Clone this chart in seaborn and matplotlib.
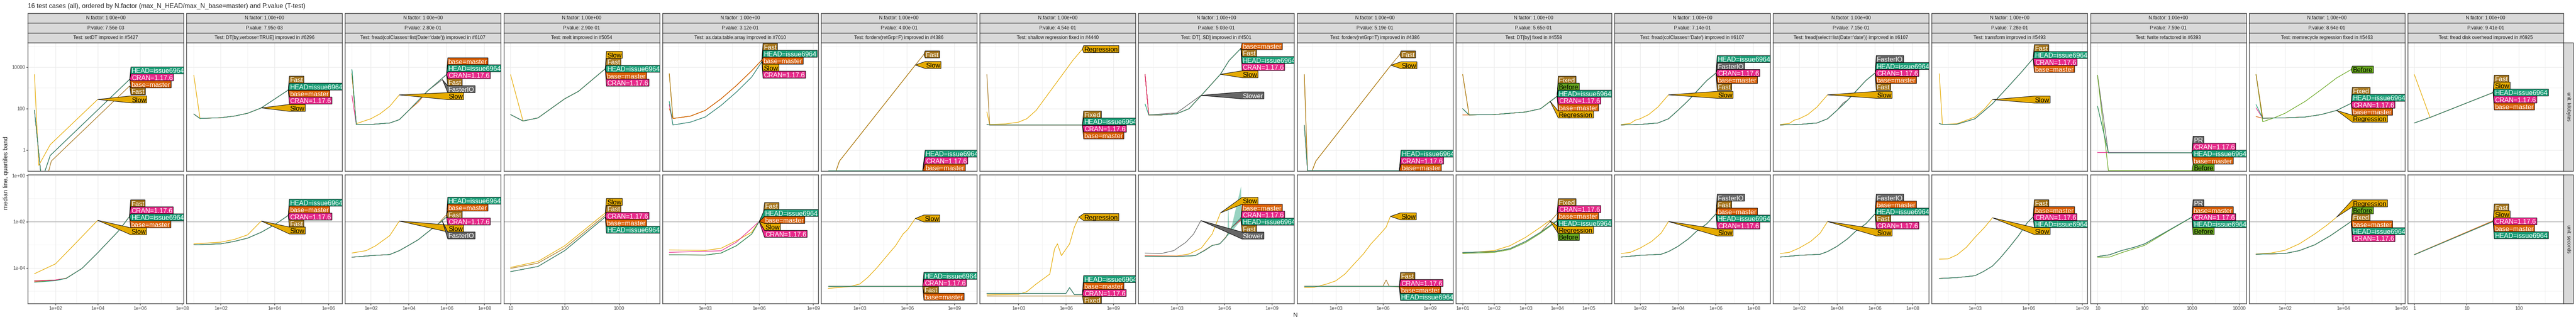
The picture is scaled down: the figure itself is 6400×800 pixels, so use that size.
import numpy as np
import pandas as pd
import seaborn as sns
import matplotlib.pyplot as plt
from matplotlib.patches import Polygon, Rectangle
from matplotlib.transforms import IdentityTransform
from matplotlib.ticker import NullFormatter, FixedLocator

sns.set_style("white")
plt.rcParams['font.family'] = ['Liberation Sans', 'DejaVu Sans']

H_ = "HEAD=issue6964"
C_ = "CRAN=1.17.6"
B_ = "base=master"

TITLE = ("16 test cases (all), ordered by N.factor "
         "(max_N_HEAD/max_N_base=master) and P.value (T-test)")

tests = [
    "setDT improved in #5427",
    "DT[by,verbose=TRUE] improved in #6296",
    "fread(colClasses=list(Date='date')) improved in #6107",
    "melt improved in #5054",
    "as.data.table.array improved in #7010",
    "forderv(retGrp=F) improved in #4386",
    "shallow regression fixed in #4440",
    "DT[,.SD] improved in #4501",
    "forderv(retGrp=T) improved in #4386",
    "DT[by] fixed in #4558",
    "fread(colClasses='Date') improved in #6107",
    "fread(select=list(Date='date')) improved in #6107",
    "transform improved in #5493",
    "fwrite refactored in #6393",
    "memrecycle regression fixed in #5463",
    "fread disk overhead improved in #6925",
]
p_values = ["7.56e-03", "7.95e-03", "2.80e-01", "2.90e-01", "3.12e-01", "4.00e-01",
            "4.54e-01", "5.03e-01", "5.19e-01", "5.65e-01", "7.14e-01", "7.15e-01",
            "7.28e-01", "7.59e-01", "8.64e-01", "9.41e-01"]
n_factors = ["1.00e+00"] * 16
units = ["kilobytes", "seconds"]

x_ticks = [
    ["1e+02", "1e+04", "1e+06", "1e+08"],
    ["1e+02", "1e+04", "1e+06"],
    ["1e+02", "1e+04", "1e+06", "1e+08"],
    ["10", "100", "1000"],
    ["1e+03", "1e+06", "1e+09"],
    ["1e+03", "1e+06", "1e+09"],
    ["1e+03", "1e+06", "1e+09"],
    ["1e+03", "1e+06", "1e+09"],
    ["1e+03", "1e+06", "1e+09"],
    ["1e+01", "1e+02", "1e+03", "1e+04", "1e+05"],
    ["1e+02", "1e+04", "1e+06", "1e+08"],
    ["1e+02", "1e+04", "1e+06", "1e+08"],
    ["1e+03", "1e+06", "1e+09"],
    ["10", "100", "1000", "10000"],
    ["1e+02", "1e+04", "1e+06"],
    ["1", "10", "100"],
]
y_ticks = [["1", "100", "10000"], ["1e-04", "1e-02", "1e+00"]]

# ---- 1 setDT
setdt_kb_mid = ([10, 22, 32, 56, 3.3e5], [83, 0.03, 0.1, 0.54, 2600])
setdt_kb = {
    "Slow": ([10, 16, 56, 1e4], [4400, 0.18, 1.8, 275]),
    "Fast": ([10, 22, 40, 63, 3.3e5], [83, 0.03, 0.05, 0.29, 1240]),
    B_: setdt_kb_mid, C_: setdt_kb_mid, H_: setdt_kb_mid,
}
setdt_sec_N = [10, 100, 320, 1800, 1e4, 1e5, 3.2e5]
setdt_sec = {
    "Slow": ([10, 100, 1000, 1e4], [5.6e-5, 1.5e-4, 1.3e-3, 0.0115]),
    "Fast": (setdt_sec_N, [2.8e-5, 3.0e-5, 3.6e-5, 9.5e-5, 4.5e-4, 4.1e-3, 0.017]),
    C_: (setdt_sec_N, [2.7e-5, 3.0e-5, 3.5e-5, 9.5e-5, 4.5e-4, 4.1e-3, 0.0166]),
    B_: (setdt_sec_N, [2.5e-5, 2.9e-5, 3.5e-5, 9.5e-5, 4.5e-4, 4.1e-3, 0.0166]),
    H_: (setdt_sec_N, [2.4e-5, 2.8e-5, 3.5e-5, 9.5e-5, 4.5e-4, 4.1e-3, 0.0166]),
}

# ---- 2 DT[by,verbose=TRUE]
dtverb_kb_mid = ([10, 17, 100, 316, 1000, 3200, 3.2e4], [54, 33, 36, 43, 59, 107, 776])
dtverb_kb = {
    "Slow": ([10, 17, 100, 316, 1000, 3200], [4100, 33, 36, 43, 59, 107]),
    "Fast": dtverb_kb_mid, B_: dtverb_kb_mid, C_: dtverb_kb_mid, H_: dtverb_kb_mid,
}
dtverb_sec_mid = ([10, 100, 316, 1000, 3200, 1e4, 3.2e4],
                  [1e-3, 1.1e-3, 1.4e-3, 1.95e-3, 3.5e-3, 7.4e-3, 0.0186])
dtverb_sec = {
    "Slow": ([10, 100, 316, 1000, 3200], [1.1e-3, 1.3e-3, 1.7e-3, 2.7e-3, 0.0107]),
    "Fast": dtverb_sec_mid, B_: dtverb_sec_mid, C_: dtverb_sec_mid, H_: dtverb_sec_mid,
}

# ---- 3 fread(colClasses=list(Date='date'))
frlist_N = [10, 17, 100, 1000, 3200, 1e4, 1e5, 1e6]
frlist_kb = {
    "Slow": ([10, 17, 57, 100, 310, 1000, 3200], [4800, 18.5, 27, 32, 56, 129, 455]),
    "FasterIO": ([10, 17, 100, 1000, 3200, 1e4, 1e5, 6e5], [7600, 17, 17, 20, 29, 81, 710, 2500]),
    "Fast": (frlist_N, [4800, 17, 17, 20, 29, 81, 710, 4400]),
    B_: ([10, 17, 100, 1000, 3200, 1e4, 3.2e4, 1e5, 1e6], [4800, 17, 17, 20, 29, 81, 204, 710, 4400]),
    C_: (frlist_N, [430, 17, 17, 20, 29, 81, 710, 4400]),
    H_: (frlist_N, [7600, 17, 17, 20, 29, 81, 710, 4400]),
}
frlist_sec_N = [10, 100, 1000, 3200, 1e4, 3.2e4, 1e5, 3.2e5, 1e6]
frlist_sec_v = [2.9e-4, 3.4e-4, 3.8e-4, 5.6e-4, 9.5e-4, 1.66e-3, 3.5e-3, 7.4e-3, 0.0158]
frlist_sec = {
    "Slow": ([10, 57, 180, 1000, 3200], [4.4e-4, 5.6e-4, 9.1e-4, 2.5e-3, 0.0107]),
    "FasterIO": ([10, 100, 1000, 3200, 1e4, 3.2e4, 1e5, 3.2e5, 6e5],
                 [2.9e-4, 3.4e-4, 3.8e-4, 5.6e-4, 9.5e-4, 1.66e-3, 3.5e-3, 7.4e-3, 0.0105]),
    "Fast": (frlist_sec_N, [2.9e-4, 3.4e-4, 3.8e-4, 5.6e-4, 9.5e-4, 1.66e-3, 3.5e-3, 7.4e-3, 0.02]),
    B_: (frlist_sec_N, frlist_sec_v), C_: (frlist_sec_N, frlist_sec_v), H_: (frlist_sec_N, frlist_sec_v),
}

# ---- 4 melt
melt_kb_mid = ([10, 17, 32, 100, 180, 560], [51, 25, 35, 295, 680, 8300])
melt_kb = {
    "Slow": ([10, 17, 32, 100, 180, 560], [4300, 25, 35, 295, 680, 8300]),
    "Fast": melt_kb_mid, B_: melt_kb_mid, C_: melt_kb_mid, H_: melt_kb_mid,
}
melt_sec_mid = ([10, 32, 100, 560], [6.9e-5, 1.15e-4, 5.6e-4, 0.016])
melt_sec = {
    "Slow": ([10, 32, 100, 560], [1.05e-4, 1.9e-4, 9.1e-4, 0.024]),
    "Fast": ([10, 32, 100, 560], [9.5e-5, 1.6e-4, 7.2e-4, 0.019]),
    B_: melt_sec_mid, C_: melt_sec_mid, H_: melt_sec_mid,
}

# ---- 5 as.data.table.array
asdt_N = [10, 16, 150, 1000, 7600, 5.4e4, 3.8e5, 1.4e6]
asdt_kb = {
    "Slow": (asdt_N, [4800, 33, 43, 81, 295, 1290, 6600, 22000]),
    "Fast": (asdt_N, [4800, 33, 43, 81, 295, 1290, 6600, 22000]),
    B_: (asdt_N, [98, 33, 43, 81, 295, 1290, 6600, 22000]),
    C_: (asdt_N, [155, 16, 22, 39, 141, 620, 3300, 18000]),
    H_: (asdt_N, [220, 16, 22, 39, 141, 620, 3300, 18000]),
}
asdt_sec_N = [10, 1000, 7600, 5.4e4, 3.8e5, 1e6]
asdt_sec = {
    "Slow": (asdt_sec_N, [6e-4, 5.7e-4, 7.1e-4, 1.5e-3, 3.5e-3, 0.0102]),
    C_: ([10, 7600, 5.4e4, 1e6], [4.7e-4, 5.5e-4, 1.3e-3, 0.0102]),
    "Fast": ([10, 1000, 7600, 5.4e4, 3.8e5, 1e6, 1.7e6],
             [3.7e-4, 3.6e-4, 4.4e-4, 9.1e-4, 2.9e-3, 0.0102, 0.022]),
    B_: (asdt_sec_N, [3.7e-4, 3.6e-4, 4.4e-4, 9.1e-4, 2.9e-3, 0.0102]),
    H_: (asdt_sec_N, [3.7e-4, 3.6e-4, 4.4e-4, 9.1e-4, 2.9e-3, 0.0102]),
}

# ---- 6 forderv(retGrp=F)
fordf_kb_flat = ([10, 1e7], [0.1, 0.1])
fordf_kb = {
    "Slow": ([10, 32, 52, 3.4e6], [0.01, 0.1, 0.29, 12600]),
    "Fast": ([10, 32, 52, 3.4e6, 1.2e7], [0.01, 0.1, 0.29, 12600, 41000]),
    B_: fordf_kb_flat, C_: fordf_kb_flat, H_: fordf_kb_flat,
}
fordf_sec_flat = ([10, 1e7], [1.6e-5, 1.6e-5])
fordf_sec = {
    "Slow": ([10, 230, 1000, 3300, 1.3e4, 6.1e4, 1.9e5, 5.7e5, 1.1e6, 3.4e6],
             [1.3e-5, 1.55e-5, 2e-5, 3.9e-5, 1.05e-4, 3.7e-4, 9.1e-4, 2.95e-3, 4.5e-3, 0.0138]),
    "Fast": fordf_sec_flat, B_: fordf_sec_flat, C_: fordf_sec_flat, H_: fordf_sec_flat,
}

# ---- 7 shallow regression
shallow_kb_flat = ([10, 15, 1.1e7], [17, 16, 16])
shallow_kb = {
    "Regression": ([10, 15, 150, 1000, 3300, 1.3e4, 7.6e4, 4.6e5, 2.7e6, 1.1e7],
                   [68, 17, 18, 22, 32, 81, 510, 3300, 21000, 74000]),
    "Fixed": ([10, 15, 1.1e7], [4400, 16, 16]),
    B_: shallow_kb_flat, C_: shallow_kb_flat, H_: shallow_kb_flat,
}
shallow_sec_flat = ([10, 1e6, 1.7e6, 3.4e6, 1.1e7], [7.9e-6, 7.9e-6, 1.4e-5, 7e-6, 7e-6])
shallow_sec = {
    "Regression": ([10, 1000, 3300, 1.3e4, 9.5e4, 1.9e5, 2.9e5, 5.2e5, 1.7e6, 3.4e6, 6.6e6],
                   [6.8e-6, 7.2e-6, 9.3e-6, 2e-5, 5.4e-5, 6.6e-4, 1.1e-3, 3.4e-4, 1.1e-3, 5.8e-3, 0.0158]),
    "Fixed": ([10, 1.1e7], [6.2e-6, 6.2e-6]),
    B_: shallow_sec_flat, C_: shallow_sec_flat, H_: shallow_sec_flat,
}

# ---- 8 DT[,.SD]
dtsd_N = [10, 17, 107, 1000, 5900, 3.5e4, 5.6e5, 2e6, 1.1e7]
dtsd_kb = {
    "Slow": ([10, 17, 107, 1000, 5900, 3.5e4, 5.6e5], [4400, 49, 49, 56, 98, 430, 4500]),
    "Slower": ([10, 17, 1000, 3.3e4], [4400, 49, 62, 430]),
    "Fast": (dtsd_N, [4400, 49, 49, 56, 98, 430, 4500, 21000, 80000]),
    B_: (dtsd_N, [4400, 49, 49, 56, 98, 430, 4500, 21000, 80000]),
    C_: (dtsd_N, [4400, 49, 49, 56, 98, 430, 4500, 21000, 80000]),
    H_: (dtsd_N, [166, 49, 49, 56, 98, 430, 4500, 21000, 80000]),
}
dtsd_sec_N = [10, 1000, 1.45e4, 5.5e4, 1.7e5, 5.1e5, 1.25e6, 3e6, 1.1e7]
dtsd_sec = {
    "Slow": ([10, 1000, 5900, 3.5e4, 1.7e5, 5.6e5], [3.4e-4, 3.3e-4, 4e-4, 7.2e-4, 2.95e-3, 0.024]),
    "Slower": ([10, 107, 640, 3800, 1.15e4, 3.3e4], [4.4e-4, 4.2e-4, 5.6e-4, 1.3e-3, 2.95e-3, 0.0112]),
    "Fast": (dtsd_sec_N, [3.2e-4, 3.1e-4, 3.4e-4, 5.6e-4, 9.3e-4, 1.1e-3, 2.1e-3, 5.8e-3, 0.012]),
    B_: (dtsd_sec_N, [3.3e-4, 3.1e-4, 3.4e-4, 5.8e-4, 9.5e-4, 1.1e-3, 2.2e-3, 6e-3, 0.013]),
    C_: (dtsd_sec_N, [3.3e-4, 3.2e-4, 3.4e-4, 5.6e-4, 9.3e-4, 1.1e-3, 2.1e-3, 5.8e-3, 0.013]),
    H_: (dtsd_sec_N, [3.2e-4, 3.1e-4, 3.4e-4, 5.6e-4, 9.3e-4, 1.1e-3, 2.1e-3, 5.8e-3, 0.015]),
}
dtsd_band_N = [1.25e6, 1.5e6, 1.7e6, 2e6, 3e6, 1.1e7]
dtsd_band_lo = [2.1e-3, 2.4e-3, 2.6e-3, 2.8e-3, 4e-3, 0.012]
dtsd_band_hi = [2.1e-3, 2.4e-3, 0.065, 3e-3, 8e-3, 0.35]

# ---- 9 forderv(retGrp=T)
fordt_kb_flat = ([10, 16, 1.1e7], [15.5, 0.1, 0.1])
fordt_kb = {
    "Slow": ([10, 16, 30, 54, 3.2e6], [4400, 0.09, 0.09, 0.29, 12300]),
    "Fast": ([10, 16, 30, 54, 3.2e6, 1.2e7], [4400, 0.09, 0.09, 0.29, 12300, 41000]),
    B_: fordt_kb_flat, C_: fordt_kb_flat, H_: fordt_kb_flat,
}
fordt_sec_flat = ([10, 1.1e7], [1.6e-5, 1.6e-5])
fordt_sec = {
    "Slow": ([10, 43, 260, 1000, 3800, 1.5e4, 5.7e4, 1.75e5, 5.4e5, 1.6e6, 3e6],
             [1.4e-5, 1.45e-5, 2e-5, 2.75e-5, 5.4e-5, 1.5e-4, 4e-4, 1.1e-3, 2.5e-3, 5.8e-3, 0.017]),
    "Fast": ([10, 1e6, 1.6e6, 2.5e6, 1.1e7], [1.6e-5, 1.6e-5, 3e-5, 1.6e-5, 1.5e-5]),
    B_: fordt_sec_flat, C_: fordt_sec_flat, H_: fordt_sec_flat,
}

# ---- 10 DT[by] fixed
dtbyf_N = [10, 16, 100, 1000, 3000, 1e4]
dtbyf_kb = {
    "Regression": ([10, 16, 100, 1000, 3000, 6000], [4400, 49, 51, 68, 98, 224]),
    "Fixed": (dtbyf_N, [4400, 49, 51, 68, 98, 390]),
    "Before": (dtbyf_N, [98, 49, 51, 68, 98, 390]),
    B_: (dtbyf_N, [49, 49, 51, 68, 98, 390]),
    C_: (dtbyf_N, [98, 49, 51, 68, 98, 390]),
    H_: (dtbyf_N, [98, 49, 51, 68, 98, 390]),
}
dtbyf_sec_N = [10, 100, 316, 1000, 3000, 1e4]
dtbyf_sec = {
    "Regression": ([10, 100, 316, 1000, 3000, 5800], [4.4e-4, 5.6e-4, 9.1e-4, 2.1e-3, 5.8e-3, 0.0112]),
    "Before": (dtbyf_sec_N, [4.2e-4, 4.7e-4, 6.2e-4, 1.25e-3, 3.2e-3, 0.0105]),
    "Fixed": (dtbyf_sec_N, [4.6e-4, 5.1e-4, 6.8e-4, 1.4e-3, 3.5e-3, 0.022]),
    B_: (dtbyf_sec_N, [4.6e-4, 5.1e-4, 6.8e-4, 1.4e-3, 3.5e-3, 0.0112]),
    C_: (dtbyf_sec_N, [4.6e-4, 5.1e-4, 6.8e-4, 1.4e-3, 3.5e-3, 0.0112]),
    H_: (dtbyf_sec_N, [4.6e-4, 5.1e-4, 6.8e-4, 1.4e-3, 3.5e-3, 0.0112]),
}

# ---- 11 fread(colClasses='Date')  and  12 fread(select=list(Date='date'))
frdate_kb_mid = ([10, 100, 870, 3200, 1e4, 3.6e4, 1.1e5, 3.4e5, 1.05e6],
                 [16, 17, 20, 32, 81, 245, 740, 2240, 5200])
frdate_kb_slow = ([10, 30, 53, 100, 285, 870, 3200], [17, 19, 27, 32, 51, 117, 457])
frdate_kb = {
    "Slow": frdate_kb_slow, "Fast": frdate_kb_mid, "FasterIO": frdate_kb_mid,
    B_: frdate_kb_mid, C_: frdate_kb_mid, H_: frdate_kb_mid,
}
frdate_sec_mid = ([10, 100, 1300, 3200, 1e4, 3.6e4, 1.1e5, 3.4e5, 1.05e6],
                  [2.95e-4, 3.5e-4, 3.9e-4, 5.1e-4, 8.5e-4, 1.8e-3, 4.2e-3, 8.1e-3, 0.022])
frdate_sec_slow = ([10, 30, 100, 410, 1300, 3200], [4.2e-4, 4.7e-4, 7.2e-4, 1.4e-3, 3.2e-3, 0.0102])
frdate_sec = {
    "Slow": frdate_sec_slow, "Fast": frdate_sec_mid, "FasterIO": frdate_sec_mid,
    B_: frdate_sec_mid, C_: frdate_sec_mid, H_: frdate_sec_mid,
}
frsel_kb = {
    "Slow": frdate_kb_slow, "Fast": frdate_kb_mid,
    "FasterIO": ([10, 100, 870, 3200, 1e4, 2.2e4, 3.6e4, 1.1e5, 3.4e5, 1.05e6],
                 [16, 17, 20, 32, 81, 190, 250, 740, 2240, 5200]),
    B_: frdate_kb_mid, C_: frdate_kb_mid, H_: frdate_kb_mid,
}
frsel_sec = {
    "Slow": frdate_sec_slow, "Fast": frdate_sec_mid, "FasterIO": frdate_sec_mid,
    B_: frdate_sec_mid, C_: frdate_sec_mid, H_: frdate_sec_mid,
}

# ---- 13 transform
transf_kb_mid = ([10, 15, 100, 1000, 9500, 8.3e4, 4e5, 1.8e6], [19, 17, 17.5, 32, 170, 1290, 5750, 26000])
transf_kb = {
    "Slow": ([10, 15, 100, 1000, 3500, 9500], [4800, 17, 18.5, 39, 98, 270]),
    "Fast": transf_kb_mid, B_: transf_kb_mid, C_: transf_kb_mid, H_: transf_kb_mid,
}
transf_sec_mid = ([10, 100, 1000, 2900, 9500, 2.5e4, 8.3e4, 2.75e5, 8.9e5, 1.8e6],
                  [3.5e-5, 3.8e-5, 4.6e-5, 6.9e-5, 1.2e-4, 2.6e-4, 7.8e-4, 2.5e-3, 9.5e-3, 0.016])
transf_sec = {
    "Slow": ([10, 31, 100, 330, 1000, 3500, 9500], [2.4e-4, 2.45e-4, 3.7e-4, 7.8e-4, 2.1e-3, 5.8e-3, 0.0148]),
    "Fast": transf_sec_mid, B_: transf_sec_mid, C_: transf_sec_mid, H_: transf_sec_mid,
}

# ---- 14 fwrite
fwrite_kb = {
    "Before": ([10, 17, 1000], [4100, 0.1, 0.1]),
    "PR": ([10, 17, 1000], [4100, 0.73, 0.73]),
    B_: ([10, 17, 1000], [130, 0.73, 0.73]),
    C_: ([10, 17, 1000], [0.75, 0.75, 0.73]),
    H_: ([10, 17, 1000], [130, 0.73, 0.73]),
}
fwrite_N = [10, 18, 32, 60, 100, 320, 1000]
fwrite_sec_mid = (fwrite_N, [3.1e-4, 3.7e-4, 5.6e-4, 7.8e-4, 1.1e-3, 4.2e-3, 0.0158])
fwrite_sec = {
    "Before": (fwrite_N, [2.9e-4, 2.95e-4, 4.5e-4, 6.8e-4, 9.5e-4, 4e-3, 0.0155]),
    "PR": fwrite_sec_mid, B_: fwrite_sec_mid, C_: fwrite_sec_mid, H_: fwrite_sec_mid,
}

# ---- 15 memrecycle
memr_N = [10, 17, 100, 500, 1750, 6000, 1.9e4]
memr_kb = {
    "Regression": ([10, 17, 100, 500, 1750, 6000], [4400, 34, 35.5, 39, 51, 81]),
    "Before": ([10, 17, 42, 100, 500, 1750, 6000, 1.9e4], [4400, 23, 35.5, 59, 224, 810, 3000, 7600]),
    "Fixed": (memr_N, [4400, 34, 35.5, 39, 51, 81, 178]),
    B_: (memr_N, [41, 34, 35.5, 39, 51, 81, 178]),
    C_: (memr_N, [107, 34, 35.5, 39, 51, 81, 178]),
    H_: (memr_N, [155, 34, 35.5, 39, 51, 81, 178]),
}
memr_sec_mid = ([10, 100, 310, 1060, 3700, 1.9e4], [3.9e-4, 4.2e-4, 5.6e-4, 1e-3, 2.5e-3, 0.0102])
memr_sec = {
    "Regression": ([10, 33, 100, 310, 1060, 2900, 6000], [4e-4, 4.4e-4, 5.8e-4, 1.1e-3, 2.95e-3, 7.4e-3, 0.0158]),
    "Before": memr_sec_mid, "Fixed": memr_sec_mid, B_: memr_sec_mid, C_: memr_sec_mid, H_: memr_sec_mid,
}

# ---- 16 fread disk overhead
frdisk_kb_mid = ([1, 2, 32], [20, 37, 590])
frdisk_kb = {
    "Slow": ([1, 2, 32], [4400, 37, 590]),
    "Fast": frdisk_kb_mid, B_: frdisk_kb_mid, C_: frdisk_kb_mid, H_: frdisk_kb_mid,
}
frdisk_sec_mid = ([1, 32], [3.7e-4, 0.0102])
frdisk_sec = {
    "Slow": frdisk_sec_mid, "Fast": frdisk_sec_mid,
    B_: ([1, 32], [3.8e-4, 0.011]), C_: frdisk_sec_mid, H_: frdisk_sec_mid,
}

panel_data = [
    (setdt_kb, setdt_sec), (dtverb_kb, dtverb_sec), (frlist_kb, frlist_sec), (melt_kb, melt_sec),
    (asdt_kb, asdt_sec), (fordf_kb, fordf_sec), (shallow_kb, shallow_sec), (dtsd_kb, dtsd_sec),
    (fordt_kb, fordt_sec), (dtbyf_kb, dtbyf_sec), (frdate_kb, frdate_sec), (frsel_kb, frsel_sec),
    (transf_kb, transf_sec), (fwrite_kb, fwrite_sec), (memr_kb, memr_sec), (frdisk_kb, frdisk_sec),
]

# ---------------- layout / style ----------------
label_order = [
    ([H_, C_, B_, "Fast", "Slow"], ["Fast", C_, H_, B_, "Slow"]),
    (["Fast", H_, B_, C_, "Slow"], [H_, B_, C_, "Fast", "Slow"]),
    ([B_, H_, C_, "Fast", "FasterIO", "Slow"], [H_, B_, "Fast", C_, "Slow", "FasterIO"]),
    (["Slow", "Fast", H_, B_, C_], ["Slow", "Fast", C_, B_, H_]),
    (["Fast", H_, B_, "Slow", C_], ["Fast", H_, B_, "Slow", C_]),
    (["Fast", "Slow", H_, C_, B_], ["Slow", H_, C_, "Fast", B_]),
    (["Regression", "Fixed", H_, C_, B_], ["Regression", H_, B_, C_, "Fixed"]),
    ([B_, "Fast", H_, C_, "Slow", "Slower"], ["Slow", B_, C_, H_, "Fast", "Slower"]),
    (["Fast", "Slow", H_, C_, B_], ["Slow", "Fast", C_, B_, H_]),
    (["Fixed", "Before", H_, C_, B_, "Regression"], ["Fixed", C_, B_, H_, "Regression", "Before"]),
    ([H_, "FasterIO", C_, B_, "Fast", "Slow"], ["FasterIO", "Fast", B_, H_, C_, "Slow"]),
    (["FasterIO", H_, C_, B_, "Fast", "Slow"], ["FasterIO", B_, H_, "Fast", C_, "Slow"]),
    (["Fast", H_, C_, B_, "Slow"], ["Fast", B_, C_, H_, "Slow"]),
    (["PR", C_, H_, B_, "Before"], ["PR", B_, C_, H_, "Before"]),
    (["Before", "Fixed", H_, C_, B_, "Regression"], ["Regression", "Before", "Fixed", B_, H_, C_]),
    (["Fast", "Slow", H_, C_, B_], ["Fast", "Slow", C_, B_, H_]),
]
x_range = [(0.683, 8.07), (0.727, 6.51), (0.64, 8.87), (0.875, 3.75), (0.62, 9.28), (0.55, 10.44),
           (0.55, 10.4), (0.58, 10.4), (0.54, 10.45), (0.78, 5.73), (0.64, 8.89), (0.62, 8.87),
           (0.58, 9.3), (0.85, 4.15), (0.76, 6.13), (-0.125, 2.85)]
y_range = [(-1.02, 5.18), (-5.54, 0.035)]

COLORS = {H_: "#1B9E77", B_: "#D95F02", C_: "#E7298A", "Fast": "#A6761D", "Fixed": "#A6761D",
          "Slow": "#E6AB02", "Regression": "#E6AB02", "Before": "#66A61E", "PR": "#666666",
          "FasterIO": "#666666", "Slower": "#666666"}
DARK_TEXT = {"Slow", "Regression", "Before"}
DRAW_ORDER = ["Slow", "Regression", "Slower", "FasterIO", "PR", "Before", "Fast", "Fixed", B_, C_, H_]

W, HP = 6400, 800
LEFT, PW, STEP = 69, 387, 394.2
ROWS = [(106, 425), (434, 754)]
STRIP_Y = [33.3, 57.5, 81.8, 106]
LW = 1.07
BOX_H = 17.3
LABEL_FS = 11.9
TICK_FS = 8.6
STRIP_FS = 8.6

fig = plt.figure(figsize=(W / 100, HP / 100), dpi=100)
fig.patch.set_facecolor("white")


def frect(x0, y0, x1, y1):
    return [x0 / W, 1 - y1 / HP, (x1 - x0) / W, (y1 - y0) / HP]


def minors(majors, lo, hi):
    lg = np.log10(majors)
    step = lg[1] - lg[0]
    mids = [lg[0] - step / 2] + list((lg[:-1] + lg[1:]) / 2) + [lg[-1] + step / 2]
    return [10 ** m for m in mids if lo < m < hi]


def place(targets, h, lo, hi):
    # keep labels in the given order, as close to their line ends as possible
    n = len(targets)
    s = [t - i * h for i, t in enumerate(targets)]
    blocks = []
    for v in s:
        blocks.append([v, 1])
        while len(blocks) > 1 and blocks[-2][0] / blocks[-2][1] > blocks[-1][0] / blocks[-1][1]:
            tot, cnt = blocks.pop()
            blocks[-1][0] += tot
            blocks[-1][1] += cnt
    u = []
    for tot, cnt in blocks:
        u += [tot / cnt] * cnt
    umin, umax = lo + h / 2, hi - h / 2 - (n - 1) * h
    return [min(max(x, umin), umax) + i * h for i, x in enumerate(u)]


axes = []
for i in range(16):
    x0 = LEFT + i * STEP
    for k, txt in enumerate([f"N.factor: {n_factors[i]}", f"P.value: {p_values[i]}", f"Test: {tests[i]}"]):
        ya, yb = STRIP_Y[k], STRIP_Y[k + 1]
        fig.add_artist(Rectangle((x0 / W, 1 - yb / HP), PW / W, (yb - ya) / HP, transform=fig.transFigure,
                                 facecolor="#D9D9D9", edgecolor="#333333", lw=LW))
        fig.text((x0 + PW / 2) / W, 1 - (ya + yb) / 2 / HP, txt, ha="center", va="center",
                 fontsize=STRIP_FS, color="#1A1A1A")
    row_axes = []
    for r in range(2):
        y0, y1 = ROWS[r]
        ax = fig.add_axes(frect(x0, y0, x0 + PW, y1))
        ax.set_xscale("log")
        ax.set_yscale("log")
        data = panel_data[i][r]
        recs = []
        for v, (ns, vals) in data.items():
            for n, val in zip(ns, vals):
                recs.append({"N": n, "value": val, "version": v})
        df = pd.DataFrame(recs)
        ho = [v for v in DRAW_ORDER if v in data]
        if i == 7 and r == 1:
            ax.fill_between(dtsd_band_N, dtsd_band_lo, dtsd_band_hi, color=COLORS[H_], alpha=0.45, lw=0, zorder=2)
        sns.lineplot(data=df, x="N", y="value", hue="version", hue_order=ho, palette=COLORS,
                     estimator=None, sort=False, legend=False, linewidth=LW, ax=ax, zorder=3)
        ax.set_xlabel("")
        ax.set_ylabel("")
        lo, hi = x_range[i]
        ax.set_xlim(10 ** lo, 10 ** hi)
        ax.set_ylim(10 ** y_range[r][0], 10 ** y_range[r][1])
        xt = [float(t) for t in x_ticks[i]]
        yt = [float(t) for t in y_ticks[r]]
        ax.xaxis.set_major_locator(FixedLocator(xt))
        ax.xaxis.set_minor_locator(FixedLocator(minors(xt, lo, hi)))
        ax.yaxis.set_major_locator(FixedLocator(yt))
        ax.yaxis.set_minor_locator(FixedLocator(minors(yt, *y_range[r])))
        ax.xaxis.set_minor_formatter(NullFormatter())
        ax.yaxis.set_minor_formatter(NullFormatter())
        if r == 1:
            ax.set_xticklabels(x_ticks[i])
        else:
            ax.xaxis.set_major_formatter(NullFormatter())
        if i == 0:
            ax.set_yticklabels(y_ticks[r])
        else:
            ax.yaxis.set_major_formatter(NullFormatter())
        ax.tick_params(which="major", length=2.75, width=LW, color="#333333", labelsize=TICK_FS,
                       labelcolor="#4D4D4D", pad=2)
        ax.tick_params(which="minor", length=0)
        ax.tick_params(axis="x", bottom=(r == 1), top=False)
        ax.tick_params(axis="y", left=(i == 0), right=False)
        ax.grid(which="major", color="#EBEBEB", lw=LW)
        ax.grid(which="minor", color="#EBEBEB", lw=LW / 2)
        ax.set_axisbelow(True)
        for sp in ax.spines.values():
            sp.set_color("#333333")
            sp.set_linewidth(LW)
        if r == 1:
            ax.axhline(0.01, color="#BEBEBE", lw=1.6, zorder=1.5)
        row_axes.append(ax)
    axes.append(row_axes)

for r in range(2):
    y0, y1 = ROWS[r]
    fig.add_artist(Rectangle((6369 / W, 1 - y1 / HP), 24 / W, (y1 - y0) / HP, transform=fig.transFigure,
                             facecolor="#D9D9D9", edgecolor="#333333", lw=LW))
    fig.text(6381 / W, 1 - (y0 + y1) / 2 / HP, f"unit: {units[r]}", rotation=-90, ha="center",
             va="center", fontsize=STRIP_FS, color="#1A1A1A")

fig.text(LEFT / W, 1 - 15 / HP, TITLE, ha="left", va="center", fontsize=11.5)
fig.text(15 / W, 1 - 430 / HP, "median line, quartiles band", rotation=90, ha="center", va="center", fontsize=11)
fig.text(3218 / W, 1 - 783 / HP, "N", ha="center", va="center", fontsize=11)

# direct labels: boxes pointing to the last point of each line
renderer = fig.canvas.get_renderer()
ident = IdentityTransform()
for i in range(16):
    for r in range(2):
        ax = axes[i][r]
        data = panel_data[i][r]
        order = label_order[i][r]
        bb = ax.get_window_extent()
        top_d, bot_d = HP - bb.y1, HP - bb.y0
        tips = {v: ax.transData.transform((data[v][0][-1], data[v][1][-1])) for v in order}
        targets = [HP - tips[v][1] for v in order]
        centers = place(targets, BOX_H, top_d, bot_d)
        left = max(tips[v][0] for v in order) + 3
        for v, c in zip(order, centers):
            yc = HP - c
            t = ax.text(left + 1.5, yc - 0.5, v, transform=ident, ha="left", va="center_baseline",
                        fontsize=LABEL_FS, color="black" if v in DARK_TEXT else "white",
                        zorder=7, clip_on=True)
            w = t.get_window_extent(renderer).width + 3.5
            poly = Polygon([tips[v], (left, yc + BOX_H / 2), (left + w, yc + BOX_H / 2),
                            (left + w, yc - BOX_H / 2), (left, yc - BOX_H / 2)], closed=True,
                           transform=ident, facecolor=COLORS[v], edgecolor="black", lw=0.8, zorder=6)
            ax.add_artist(poly)
            poly.set_clip_path(ax.patch)
            t.set_clip_path(ax.patch)

fig.savefig("out.png", dpi=100)
